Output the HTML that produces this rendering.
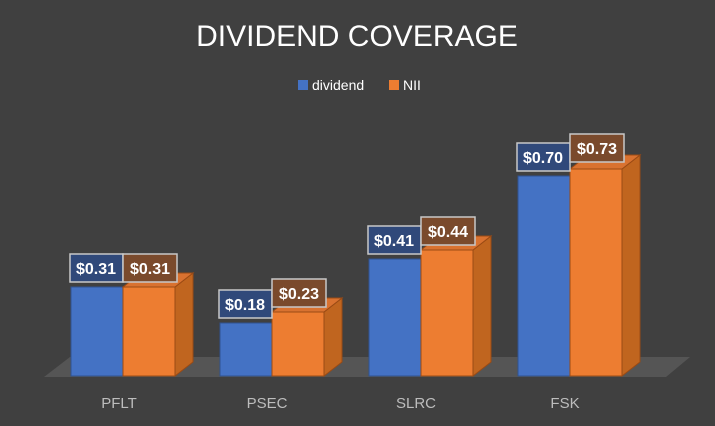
<!DOCTYPE html>
<html><head><style>
html,body{margin:0;padding:0;background:#404040;}
svg{display:block;font-family:"Liberation Sans",sans-serif;}
</style></head><body>
<svg width="715" height="426" viewBox="0 0 715 426">
<rect width="715" height="426" fill="#404040"/>
<text x="357" y="46" text-anchor="middle" fill="#fff" font-size="30">DIVIDEND COVERAGE</text>
<rect x="298" y="80" width="10" height="10" fill="#4472c4"/>
<text x="312" y="90" fill="#fff" font-size="14">dividend</text>
<rect x="389" y="80" width="10" height="10" fill="#ed7d31"/>
<text x="403" y="90" fill="#fff" font-size="14">NII</text>
<polygon points="44,377 666,377 690,357 70,357" fill="#555"/>
<g stroke="#9a4a14" stroke-width="1">
<!-- PFLT -->
<rect x="71" y="287" width="52" height="89" fill="#4472c4" stroke="#2f528f"/>
<polygon points="175,287 193,273 193,362 175,376" fill="#c0651f"/>
<polygon points="123,287 175,287 193,273 141,273" fill="#d97230"/>
<rect x="123" y="287" width="52" height="89" fill="#ed7d31"/>
<!-- PSEC -->
<rect x="220" y="323" width="52" height="53" fill="#4472c4" stroke="#2f528f"/>
<polygon points="324,312 342,298 342,362 324,376" fill="#c0651f"/>
<polygon points="272,312 324,312 342,298 290,298" fill="#d97230"/>
<rect x="272" y="312" width="52" height="64" fill="#ed7d31"/>
<!-- SLRC -->
<rect x="369" y="259" width="52" height="117" fill="#4472c4" stroke="#2f528f"/>
<polygon points="473,250 491,236 491,362 473,376" fill="#c0651f"/>
<polygon points="421,250 473,250 491,236 439,236" fill="#d97230"/>
<rect x="421" y="250" width="52" height="126" fill="#ed7d31"/>
<!-- FSK -->
<rect x="518" y="176" width="52" height="200" fill="#4472c4" stroke="#2f528f"/>
<polygon points="622,169 640,155 640,362 622,376" fill="#c0651f"/>
<polygon points="570,169 622,169 640,155 588,155" fill="#d97230"/>
<rect x="570" y="169" width="52" height="207" fill="#ed7d31"/>
</g>
<g font-size="16" font-weight="bold" fill="#fff" text-anchor="middle">
<rect x="70" y="254" width="53" height="28" fill="#30497a" stroke="#c8c8c8" stroke-width="1.5"/><text x="96" y="274">$0.31</text>
<rect x="123" y="254" width="54" height="28" fill="#7a4a2c" stroke="#c8c8c8" stroke-width="1.5"/><text x="150" y="274">$0.31</text>
<rect x="219" y="290" width="53" height="28" fill="#30497a" stroke="#c8c8c8" stroke-width="1.5"/><text x="245" y="310">$0.18</text>
<rect x="272" y="279" width="54" height="28" fill="#7a4a2c" stroke="#c8c8c8" stroke-width="1.5"/><text x="299" y="299">$0.23</text>
<rect x="368" y="226" width="53" height="28" fill="#30497a" stroke="#c8c8c8" stroke-width="1.5"/><text x="394" y="246">$0.41</text>
<rect x="421" y="217" width="54" height="28" fill="#7a4a2c" stroke="#c8c8c8" stroke-width="1.5"/><text x="448" y="237">$0.44</text>
<rect x="517" y="143" width="53" height="28" fill="#30497a" stroke="#c8c8c8" stroke-width="1.5"/><text x="543" y="163">$0.70</text>
<rect x="570" y="134" width="54" height="28" fill="#7a4a2c" stroke="#c8c8c8" stroke-width="1.5"/><text x="597" y="154">$0.73</text>
</g>
<g font-size="15" fill="#bdbdbd" text-anchor="middle">
<text x="119" y="408">PFLT</text>
<text x="267" y="408">PSEC</text>
<text x="416" y="408">SLRC</text>
<text x="565" y="408">FSK</text>
</g>
</svg>
</body></html>
